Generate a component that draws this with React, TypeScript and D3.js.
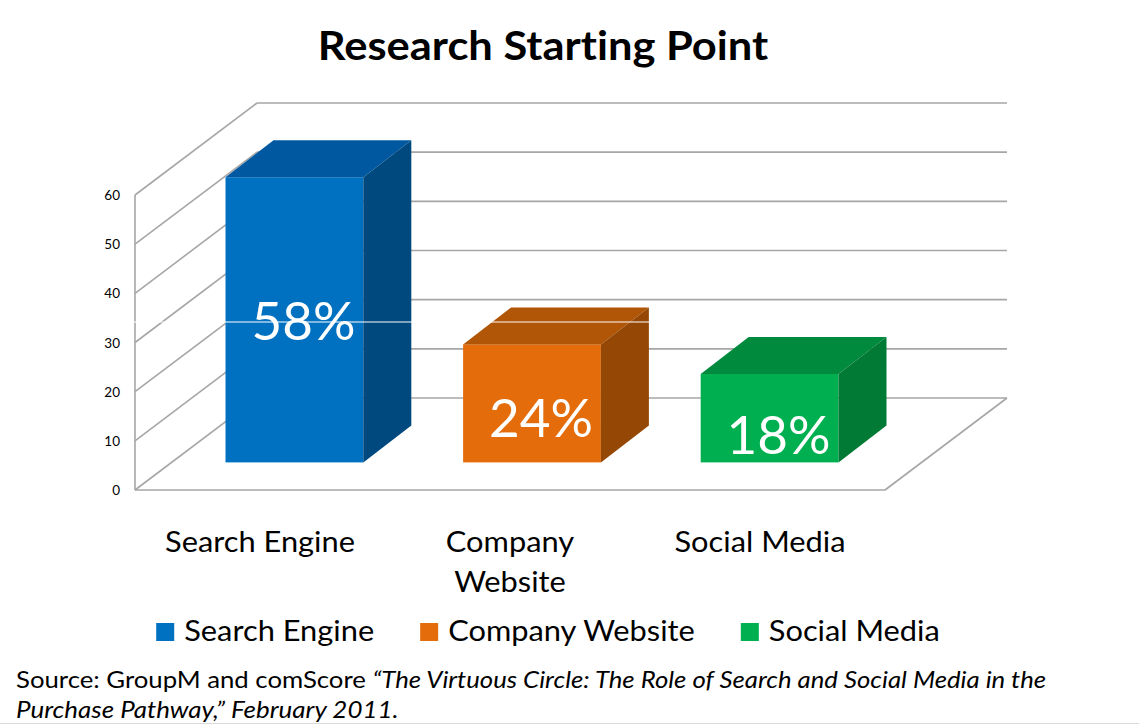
import React, { useEffect, useRef } from 'react';
import * as d3 from 'd3';

const title = 'Research Starting Point';
const categories = ['Search Engine', 'Company Website', 'Social Media'];
const values = [58, 24, 18];
const axisLabels = [['Search Engine'], ['Company', 'Website'], ['Social Media']];
const yTicks = [0, 10, 20, 30, 40, 50, 60];
const sourceLine1 = 'Source: GroupM and comScore ';
const sourceItalic1 = '\u201CThe Virtuous Circle: The Role of Search and Social Media in the';
const sourceItalic2 = 'Purchase Pathway,\u201D February 2011.';

const W = 1139;
const H = 725;
const FONT = 'Lato, "Open Sans", sans-serif';

// face colours per series: front, top, side
const frontColors = ['#0070c0', '#e46c0a', '#00b050'];
const topColors = ['#0058a0', '#b15507', '#008a3e'];
const sideColors = ['#00497f', '#954805', '#007a35'];

// widen Lato a little so it takes the room of the original face
function stretch(sel: d3.Selection<SVGTextElement, unknown, null, undefined>, k: number) {
  const w = (sel.node() as SVGTextElement).getComputedTextLength();
  sel.attr('textLength', w * k).attr('lengthAdjust', 'spacingAndGlyphs');
  return w * k;
}

export default function App() {
  const svgRef = useRef<SVGSVGElement>(null);

  useEffect(() => {
    const svg = d3.select(svgRef.current);
    svg.selectAll('*').remove();
    svg.style('font-variant-ligatures', 'none');

    svg.append('rect').attr('width', W).attr('height', H).attr('fill', '#fff');

    // Title
    const tt = svg.append('text')
      .attr('x', 543).attr('y', 60)
      .attr('text-anchor', 'middle')
      .attr('font-family', FONT).attr('font-weight', 700).attr('font-size', 41)
      .attr('fill', '#000')
      .text(title);
    stretch(tt as any, 1.06);

    // 3D frame: floor front edge + depth vector to the back wall
    const x0 = 135, x1 = 885, floorY = 490;
    const depth = { x: 122, y: -92 };
    const yFront = d3.scaleLinear().domain([0, 60]).range([floorY, floorY - 295]);
    const yBack = (v: number) => yFront(v) + depth.y;

    const grid = svg.append('g')
      .attr('stroke', '#a6a6a6').attr('stroke-width', 1.6).attr('fill', 'none');

    yTicks.forEach(t => {
      // side wall
      grid.append('line')
        .attr('x1', x0).attr('y1', yFront(t))
        .attr('x2', x0 + depth.x).attr('y2', yBack(t));
      // back wall
      grid.append('line')
        .attr('x1', x0 + depth.x).attr('y1', yBack(t))
        .attr('x2', x1 + depth.x).attr('y2', yBack(t));
    });
    grid.append('line')
      .attr('x1', x0).attr('y1', yFront(0)).attr('x2', x0).attr('y2', yFront(60));
    grid.append('line')
      .attr('x1', x0).attr('y1', floorY).attr('x2', x1).attr('y2', floorY);
    grid.append('line')
      .attr('x1', x1).attr('y1', floorY).attr('x2', x1 + depth.x).attr('y2', floorY + depth.y);

    // Y tick labels
    svg.append('g')
      .selectAll('text')
      .data(yTicks)
      .join('text')
      .attr('x', 120).attr('y', d => yFront(d) + 5)
      .attr('text-anchor', 'end')
      .attr('font-family', FONT).attr('font-size', 13.5).attr('fill', '#000')
      .text(d => d);

    // Bars sit 30% into the floor depth
    const f = 0.3;
    const yBar = (v: number) => yFront(v) + depth.y * f;
    const xBar = d3.scaleBand<string>()
      .domain(categories)
      .range([178, 886])
      .paddingInner(0.42)
      .paddingOuter(0.2);
    const bw = xBar.bandwidth();
    const bd = { x: 48, y: -37 };

    const bars = svg.append('g')
      .selectAll('g')
      .data(values.map((v, i) => ({ v, i, c: categories[i] })))
      .join('g');

    bars.each(function (d) {
      const g = d3.select(this);
      const x = xBar(d.c) as number;
      const yt = yBar(d.v);
      const yb = yBar(0);
      g.append('rect')
        .attr('x', x).attr('y', yt).attr('width', bw).attr('height', yb - yt)
        .attr('fill', frontColors[d.i]);
      g.append('path')
        .attr('d', d3.line()([
          [x, yt], [x + bd.x, yt + bd.y], [x + bw + bd.x, yt + bd.y], [x + bw, yt]
        ]) + 'Z')
        .attr('fill', topColors[d.i]);
      g.append('path')
        .attr('d', d3.line()([
          [x + bw, yt], [x + bw + bd.x, yt + bd.y], [x + bw + bd.x, yb + bd.y], [x + bw, yb]
        ]) + 'Z')
        .attr('fill', sideColors[d.i]);
      const h = yb - yt;
      g.append('text')
        .attr('x', x + bw / 2 + 9)
        .attr('y', (yt + yb) / 2 + 42.8 - 0.078 * h)
        .attr('text-anchor', 'middle')
        .attr('font-family', FONT).attr('font-size', 53).attr('fill', '#fff')
        .text(`${d.v}%`);
    });

    // stray white line across the plot (present in the original rendering)
    svg.append('line')
      .attr('x1', 130).attr('x2', 665).attr('y1', 322).attr('y2', 322)
      .attr('stroke', '#fff').attr('stroke-width', 1.2);

    // Category labels
    const xCat = d3.scaleBand<string>().domain(categories).range([x0, x1]);
    const catG = svg.append('g');
    categories.forEach((c, i) => {
      const cx = (xCat(c) as number) + xCat.bandwidth() / 2;
      axisLabels[i].forEach((line, j) => {
        const t = catG.append('text')
          .attr('x', cx).attr('y', 552 + j * 40)
          .attr('text-anchor', 'middle')
          .attr('font-family', FONT).attr('font-size', 28).attr('fill', '#000')
          .text(line);
        stretch(t as any, 1.1);
      });
    });

    // Legend
    const legend = svg.append('g');
    const items = categories.map((c, i) => {
      const g = legend.append('g');
      g.append('rect').attr('x', 0).attr('y', -18).attr('width', 18).attr('height', 18)
        .attr('fill', frontColors[i]);
      const t = g.append('text')
        .attr('x', 28).attr('y', 0)
        .attr('font-family', FONT).attr('font-size', 28).attr('fill', '#000')
        .text(c);
      const w = stretch(t as any, 1.1);
      return { g, w: 28 + w };
    });
    const gap = 46;
    const total = d3.sum(items, d => d.w) + gap * (items.length - 1);
    let lx = 548 - total / 2;
    items.forEach(it => {
      it.g.attr('transform', `translate(${lx},641)`);
      lx += it.w + gap;
    });

    // Source note
    const s1 = svg.append('text')
      .attr('x', 16).attr('y', 688)
      .attr('font-family', FONT).attr('font-size', 24).attr('fill', '#000');
    s1.append('tspan').text(sourceLine1);
    s1.append('tspan').attr('font-style', 'italic').text(sourceItalic1);
    stretch(s1 as any, 1.072);
    const s2 = svg.append('text')
      .attr('x', 16).attr('y', 718)
      .attr('font-family', FONT).attr('font-size', 24).attr('font-style', 'italic').attr('fill', '#000')
      .text(sourceItalic2);
    stretch(s2 as any, 1.08);

    svg.append('line')
      .attr('x1', 0).attr('x2', W).attr('y1', 723.5).attr('y2', 723.5)
      .attr('stroke', '#d9d9d9').attr('stroke-width', 1);
  }, []);

  return (
    <svg
      ref={svgRef}
      width={W}
      height={H}
      style={{ position: 'absolute', left: 0, top: 0, display: 'block' }}
    />
  );
}
